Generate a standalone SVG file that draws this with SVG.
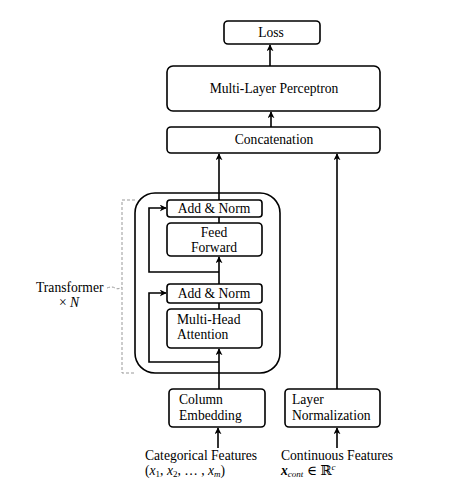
<svg xmlns="http://www.w3.org/2000/svg" width="474" height="494" viewBox="0 0 474 494">
<style>
.box{fill:#fff;stroke:#000;stroke-width:1.6}
.t{font-family:"Liberation Serif","DejaVu Serif",serif;font-size:13.6px;fill:#000}
.c{text-anchor:middle}
.ln{fill:none;stroke:#000;stroke-width:1.6}
.dash{fill:none;stroke:#999;stroke-width:1;stroke-dasharray:3,2}
</style>
<defs>
<marker id="ah" viewBox="0 0 10 10" refX="9" refY="5" markerWidth="7" markerHeight="7" orient="auto-start-reverse" markerUnits="userSpaceOnUse">
<path d="M0,0 L10,5 L0,10 L3,5 Z" fill="#000"/>
</marker>
</defs>
<rect width="474" height="494" fill="#fff"/>
<g id="connectors">
<line class="ln" x1="270" y1="66" x2="270" y2="45" marker-end="url(#ah)"/>
<line class="ln" x1="271" y1="127" x2="271" y2="112" marker-end="url(#ah)"/>
<line class="ln" x1="219" y1="200" x2="219" y2="154" marker-end="url(#ah)"/>
<line class="ln" x1="337" y1="389" x2="337" y2="154" marker-end="url(#ah)"/>
<line class="ln" x1="219" y1="217" x2="219" y2="223"/>
<line class="ln" x1="219" y1="284" x2="219" y2="257" marker-end="url(#ah)"/>
<line class="ln" x1="219" y1="303" x2="219" y2="309"/>
<line class="ln" x1="219" y1="389" x2="219" y2="349" marker-end="url(#ah)"/>
<polyline class="ln" points="219,362 149,362 149,293 166,293" marker-end="url(#ah)"/>
<polyline class="ln" points="219,272 149,272 149,208 166,208" marker-end="url(#ah)"/>
<line class="ln" x1="218" y1="448" x2="218" y2="428" marker-end="url(#ah)"/>
<line class="ln" x1="337" y1="448" x2="337" y2="428" marker-end="url(#ah)"/>
<polyline class="dash" points="135,200 122,200 122,373 135,373"/>
<path class="dash" d="M107,288 Q112,286 115,288 T122,287"/>
</g>
<g id="loss"><rect class="box" x="224" y="21" width="96" height="23" rx="4"/><text class="t c" x="271" y="37">Loss</text></g>
<g id="mlp"><rect class="box" x="167" y="66" width="213" height="45" rx="6"/><text class="t c" x="274" y="93">Multi-Layer Perceptron</text></g>
<g id="concat"><rect class="box" x="167" y="127" width="213" height="26" rx="4"/><text class="t c" x="274" y="144">Concatenation</text></g>
<g id="transformer"><rect class="box" x="135" y="193" width="145" height="180" rx="20" style="fill:none"/></g>
<g id="addnorm2"><rect class="box" x="167" y="200" width="95" height="17" rx="3"/><text class="t c" x="214" y="213">Add &amp; Norm</text></g>
<g id="ff"><rect class="box" x="167" y="223" width="95" height="33" rx="4"/><text class="t c" x="214" y="236.5">Feed</text><text class="t c" x="214" y="251.5">Forward</text></g>
<g id="addnorm1"><rect class="box" x="167" y="284" width="95" height="19" rx="3"/><text class="t c" x="214" y="298">Add &amp; Norm</text></g>
<g id="mha"><rect class="box" x="167" y="309" width="95" height="39" rx="4"/><text class="t" x="177" y="323.5">Multi-Head</text><text class="t" x="177" y="339">Attention</text></g>
<g id="transformer-label"><text class="t" x="36" y="292">Transformer</text><text class="t" x="59" y="307">× <tspan font-style="italic">N</tspan></text></g>
<g id="colemb"><rect class="box" x="169" y="389" width="96" height="38" rx="4"/><text class="t" x="179" y="404">Column</text><text class="t" x="179" y="419.5">Embedding</text></g>
<g id="layernorm"><rect class="box" x="285" y="389" width="95" height="38" rx="4"/><text class="t" x="292" y="404">Layer</text><text class="t" x="292" y="419.5">Normalization</text></g>
<g id="cat-in"><text class="t" x="145" y="459.5">Categorical Features</text><text class="t" x="145" y="474.5">(<tspan font-style="italic">x</tspan><tspan font-size="9" dy="2">1</tspan><tspan dy="-2">, </tspan><tspan font-style="italic">x</tspan><tspan font-size="9" dy="2">2</tspan><tspan dy="-2">, … , </tspan><tspan font-style="italic">x</tspan><tspan font-size="9" font-style="italic" dy="2">m</tspan><tspan dy="-2">)</tspan></text></g>
<g id="cont-in"><text class="t" x="281" y="459.5">Continuous Features</text><text class="t" x="281" y="474.5"><tspan font-style="italic" font-weight="bold">x</tspan><tspan font-size="9" font-style="italic" dy="2">cont</tspan><tspan dy="-2"> ∈ </tspan><tspan font-family="DejaVu Serif,serif">ℝ</tspan><tspan font-size="9" font-style="italic" dy="-5">c</tspan></text></g>
</svg>
